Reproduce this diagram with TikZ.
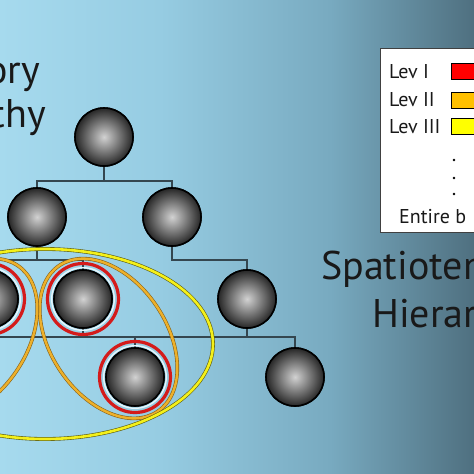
\documentclass[tikz,border=0pt]{standalone}
\usepackage{fontspec}
\setmainfont{PT Sans}
\usetikzlibrary{calc}
\definecolor{bgA}{HTML}{A6DAEE}
\definecolor{bgB}{HTML}{96CCE2}
\definecolor{bgC}{HTML}{78AAC0}
\definecolor{bgD}{HTML}{4F7080}
\definecolor{connc}{HTML}{34464F}
\definecolor{ringred}{HTML}{D41B1B}
\definecolor{orangeL}{HTML}{EDB02A}
\definecolor{orangeD}{HTML}{86621A}
\definecolor{yellowL}{HTML}{F4F01A}
\definecolor{yellowD}{HTML}{5E5E12}
\definecolor{swred}{HTML}{FF0000}
\definecolor{swor}{HTML}{FFC000}
\definecolor{swye}{HTML}{FFFF00}
\definecolor{ballin}{HTML}{D2D2D2}
\definecolor{ballout}{HTML}{262626}
\tikzset{
  ball/.style={circle, minimum size=58pt, inner sep=0pt, draw=black, line width=1.6pt,
    shading=radial, inner color=ballin, outer color=ballout},
  conn/.style={draw=connc, line width=2pt},
  ringR/.style={draw=ringred, line width=3.2pt},
  ringgap/.style={draw=white!75!bgA, line width=1.3pt},
  ovalOD/.style={draw=orangeD, line width=3.6pt},
  ovalOL/.style={draw=orangeL, line width=2.4pt},
  ovalYD/.style={draw=yellowD, line width=3.8pt},
  ovalYL/.style={draw=yellowL, line width=2.6pt},
  bigtxt/.style={font=\fontsize{40}{46}\selectfont, text=black!90, inner sep=0pt},
  legtxt/.style={font=\fontsize{20}{24}\selectfont, text=black!90, inner sep=0pt, anchor=base west},
  swatch/.style={draw=black, line width=0.9pt, minimum width=34pt, minimum height=16pt, inner sep=0pt, anchor=north west}
}
\begin{document}
\begin{tikzpicture}[x=1pt,y=-1pt]
\useasboundingbox (0,0) rectangle (474,474);
\clip (0,0) rectangle (474,474);
% background
\shade[left color=bgA, right color=bgB] (0,0) rectangle (160.5,474);
\shade[left color=bgB, right color=bgC] (160,0) rectangle (330.5,474);
\shade[left color=bgC, right color=bgD] (330,0) rectangle (474,474);

% balls (placed first for names)
\node[ball] (A) at (104,137) {};
\node[ball] (B) at (37,217) {};
\node[ball] (C) at (172,217) {};
\node[ball] (D) at (-11,299) {};
\node[ball] (E) at (83,299) {};
\node[ball] (F) at (247,299) {};
\node[ball] (G) at (135,377) {};
\node[ball] (H) at (295,377) {};

% connectors
\coordinate (j1) at (104,181);
\coordinate (j2) at (37,260);
\coordinate (j3) at (172,260);
\coordinate (j4) at (247,337);
\draw[conn] (A.south) -- (j1);
\draw[conn] (B.north) |- (j1) -| (C.north);
\draw[conn] (B.south) -- (j2);
\draw[conn] (D.north) |- (j2) -| (E.north);
\draw[conn] (C.south) -- (j3) -| (F.north);
\draw[conn] (F.south) -- (j4);
\draw[conn] (D.south) |- (j4) -| (H.north);
\draw[conn] (E.south) -- (E.south |- j4);
\draw[conn] (G.north) -- (G.north |- j4);

% redraw balls on top of connectors
\foreach \n in {A,B,C,D,E,F,G,H}{
  \node[ball] at (\n) {};
}

% level I rings
\foreach \n in {D,E,G}{
  \draw[ringgap] (\n) circle (31.3pt);
  \draw[ringR] (\n) circle (35.5pt);
}

% level II ovals
\draw[ovalOD, rotate around={-56:(108.5,338.5)}] (108.5,338.5) ellipse [x radius=88pt, y radius=58pt];
\draw[ovalOL, rotate around={-56:(108.5,338.5)}] (108.5,338.5) ellipse [x radius=88pt, y radius=58pt];
\draw[ovalOD, rotate around={56:(-31.5,338.5)}] (-31.5,338.5) ellipse [x radius=88pt, y radius=58pt];
\draw[ovalOL, rotate around={56:(-31.5,338.5)}] (-31.5,338.5) ellipse [x radius=88pt, y radius=58pt];

% level III oval
\draw[ovalYD] (45,344) ellipse [x radius=168pt, y radius=95pt];
\draw[ovalYL] (45,344) ellipse [x radius=168pt, y radius=95pt];

% titles
\node[bigtxt, anchor=base east] (t1) at (40,83) {ory};
\node[bigtxt, anchor=base east] (t2) at (46,127) {thy};
\node[bigtxt, anchor=base west] (t3) at (321,279) {Spatiotem};
\node[bigtxt, anchor=base west] (t4) at (372,327) {Hierarc};

% legend
\node[draw=black!75, line width=1.3pt, fill=white, minimum width=120pt, minimum height=184pt, anchor=north west, inner sep=0pt] (leg) at (380,48) {};
\node[legtxt] (l1) at (389,78) {Lev I};
\node[legtxt] (l2) at (389,106) {Lev II};
\node[legtxt] (l3) at (389,133) {Lev III};
\node[legtxt] (l4) at (399,223) {Entire b};
\node[swatch, fill=swred] (s1) at (451,63) {};
\node[swatch, fill=swor] (s2) at (451,92) {};
\node[swatch, fill=swye] (s3) at (451,118) {};
\fill[black] (454,160) circle (1.3pt);
\fill[black] (454,178) circle (1.3pt);
\fill[black] (454,194) circle (1.3pt);
\end{tikzpicture}
\end{document}
